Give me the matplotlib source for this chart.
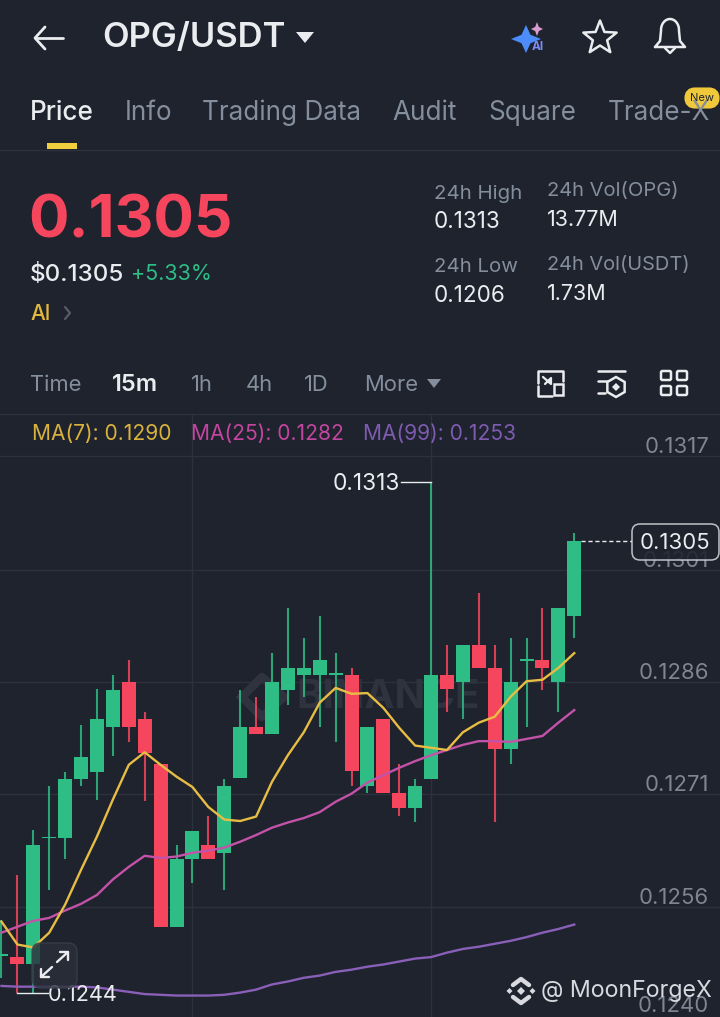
import numpy as np
import matplotlib
matplotlib.use('Agg')
import matplotlib.pyplot as plt
from matplotlib.patches import FancyBboxPatch, Polygon, Rectangle

plt.rcParams['font.family'] = ['Inter', 'DejaVu Sans']

# candles, oldest first
opens = [0.12490, 0.12488, 0.12479, 0.12649, 0.12649, 0.12729, 0.12738, 0.12799, 0.12860, 0.12810,
         0.12749, 0.12529, 0.12620, 0.12640, 0.12629, 0.12730, 0.12799, 0.12790, 0.12849, 0.12870,
         0.12870, 0.12870, 0.12870, 0.12720, 0.12810, 0.12710, 0.12690, 0.12729, 0.12870, 0.12860,
         0.12910, 0.12879, 0.12770, 0.12889, 0.12890, 0.12860, 0.12949]
closes = [0.12492, 0.12479, 0.12640, 0.12651, 0.12729, 0.12759, 0.12810, 0.12849, 0.12799, 0.12764,
          0.12529, 0.12620, 0.12659, 0.12620, 0.12720, 0.12799, 0.12790, 0.12860, 0.12879, 0.12879,
          0.12890, 0.12872, 0.12740, 0.12799, 0.12710, 0.12690, 0.12720, 0.12870, 0.12850, 0.12910,
          0.12879, 0.12770, 0.12860, 0.12891, 0.12879, 0.12960, 0.13050]
highs = [0.12538, 0.12599, 0.12660, 0.12720, 0.12738, 0.12802, 0.12850, 0.12870, 0.12890, 0.12820,
         0.12749, 0.12640, 0.12659, 0.12679, 0.12729, 0.12849, 0.12840, 0.12899, 0.12960, 0.12919,
         0.12949, 0.12899, 0.12879, 0.12799, 0.12810, 0.12749, 0.12729, 0.13130, 0.12910, 0.12910,
         0.12980, 0.12910, 0.12919, 0.12919, 0.12960, 0.12960, 0.13061]
lows = [0.12460, 0.12440, 0.12440, 0.12579, 0.12620, 0.12720, 0.12700, 0.12760, 0.12779, 0.12699,
        0.12529, 0.12529, 0.12588, 0.12620, 0.12579, 0.12730, 0.12790, 0.12790, 0.12829, 0.12840,
        0.12799, 0.12779, 0.12720, 0.12710, 0.12710, 0.12679, 0.12670, 0.12729, 0.12820, 0.12810,
        0.12879, 0.12670, 0.12749, 0.12799, 0.12849, 0.12820, 0.12919]

ma7 = [0.12536, 0.12505, 0.12501, 0.12521, 0.12559, 0.12606, 0.12651, 0.12701, 0.12748, 0.12765,
       0.12748, 0.12732, 0.12718, 0.12691, 0.12674, 0.12672, 0.12678, 0.12725, 0.12761, 0.12792,
       0.12832, 0.12852, 0.12844, 0.12845, 0.12825, 0.12798, 0.12774, 0.12771, 0.12768, 0.12792,
       0.12805, 0.12813, 0.12840, 0.12861, 0.12863, 0.12879, 0.12899]
ma25 = [0.12521, 0.12529, 0.12537, 0.12541, 0.12551, 0.12560, 0.12572, 0.12593, 0.12610, 0.12625,
        0.12622, 0.12624, 0.12629, 0.12632, 0.12636, 0.12644, 0.12653, 0.12663, 0.12670, 0.12676,
        0.12684, 0.12698, 0.12709, 0.12724, 0.12734, 0.12744, 0.12753, 0.12761, 0.12768, 0.12775,
        0.12780, 0.12780, 0.12779, 0.12783, 0.12787, 0.12805, 0.12822]
ma99 = [0.12449, 0.12448, 0.12448, 0.12448, 0.12448, 0.12448, 0.12447, 0.12444, 0.12441, 0.12438,
        0.12437, 0.12436, 0.12436, 0.12436, 0.12437, 0.12440, 0.12444, 0.12451, 0.12455, 0.12460,
        0.12463, 0.12468, 0.12471, 0.12475, 0.12478, 0.12482, 0.12486, 0.12488, 0.12494, 0.12499,
        0.12502, 0.12506, 0.12510, 0.12515, 0.12521, 0.12526, 0.12532]

grid_prices = [0.13165, 0.13012, 0.12860, 0.12708, 0.12556]
axis_prices = [0.13165, 0.13012, 0.12860, 0.12708, 0.12556, 0.12410]
axis_labels = ['0.1317', '0.1301', '0.1286', '0.1271', '0.1256', '0.1240']
grid_candles = [12, 27]

tabs = ['Price', 'Info', 'Trading Data', 'Audit', 'Square', 'Trade-X']
intervals = ['Time', '15m', '1h', '4h', '1D', 'More']

BG = '#1e232e'
GRID = '#2c313c'
GREEN = '#2ebd85'
RED = '#f6465d'
GREY = '#848e9c'
WHITE = '#eaecef'

fig = plt.figure(figsize=(7.2, 10.17), dpi=100, facecolor=BG)

# chart part, price scale on y, candle number on x
ax = fig.add_axes([0, 0, 1, 602 / 1017])
ax.set_facecolor(BG)
ax.set_xlim(-0.094, 45.16)
ax.set_ylim(0.12407, 0.13221)
for s in ax.spines.values():
    s.set_visible(False)
ax.set_xticks([])
ax.set_yticks([])
for p in grid_prices:
    ax.axhline(p, color=GRID, lw=1, zorder=1)
for c in grid_candles:
    ax.axvline(c, color=GRID, lw=1, zorder=1)

# faint watermark
ax.text(24.3, 0.12839, 'BINANCE', color='#2e333e', fontsize=29, fontweight='bold',
        ha='center', va='center', zorder=1.5)

x = np.arange(len(opens))
for i in x:
    col = GREEN if closes[i] >= opens[i] else RED
    ax.vlines(i, lows[i], highs[i], color=col, lw=1.5, alpha=0.85, zorder=2)
    ax.bar(i, abs(closes[i] - opens[i]), bottom=min(opens[i], closes[i]), width=0.88,
           color=col, lw=0, zorder=3)

ax.plot(x, ma99, color='#8a5fb8', lw=1.7, zorder=4)
ax.plot(x, ma25, color='#c452a8', lw=1.7, zorder=4)
ax.plot(x, ma7, color='#e8bd44', lw=1.7, zorder=5)

for p, lab in zip(axis_prices, axis_labels):
    ax.annotate(lab, (1, p), xycoords=('axes fraction', 'data'), xytext=(-11, 9),
                textcoords='offset pixels', color='#7f8591', fontsize=15.9, ha='right', va='center', zorder=2)

# high / low markers and the last price
ax.plot([27, 25.1], [max(highs), max(highs)], color=WHITE, lw=1, zorder=6)
ax.text(25.05, max(highs) - 0.00002, '0.1313', color=WHITE, fontsize=16.4, ha='right', va='center', zorder=6)
ax.plot([1, 2.9], [min(lows), min(lows)], color=WHITE, lw=1, zorder=6)
ax.text(2.9, min(lows) - 0.00003, '0.1244', color=WHITE, fontsize=15.6, ha='left', va='center', zorder=6)
ax.plot([36.4, 39.6], [closes[-1], closes[-1]], color=WHITE, lw=1, ls=(0, (3, 2)), zorder=6)

# everything else is placed in screen pixels
ui = fig.add_axes([0, 0, 1, 1], facecolor='none')
ui.set_xlim(0, 720)
ui.set_ylim(1017, 0)
ui.axis('off')


def txt(px, py, s, color=WHITE, size=15, weight='normal', ha='left'):
    ui.text(px, py + 2, s, color=color, fontsize=size, fontweight=weight, ha=ha, va='center')


def line(xs, ys, color=WHITE, lw=1.8):
    ui.plot(xs, ys, color=color, lw=lw, solid_capstyle='round', solid_joinstyle='round')


def sparkle(cx, cy, w, h, color):
    pts = [(cx, cy - h), (cx + w * 0.3, cy - h * 0.3), (cx + w, cy), (cx + w * 0.3, cy + h * 0.3),
           (cx, cy + h), (cx - w * 0.3, cy + h * 0.3), (cx - w, cy), (cx - w * 0.3, cy - h * 0.3)]
    ui.add_patch(Polygon(pts, closed=True, fc=color, ec='none'))


# header
line([36, 63], [38, 38], lw=2)
line([45, 35, 45], [27, 38, 49], lw=2)
txt(102, 36, 'OPG/USDT', size=24.9, weight='semibold')
ui.add_patch(Polygon([(296, 32), (314, 32), (305, 43)], closed=True, fc=WHITE, ec='none'))
sparkle(526, 39, 15, 14, '#4d8dfb')
sparkle(537, 29, 6, 7, '#d99bd0')
txt(532, 45, 'AI', color='#7d8cf5', size=8.5, weight='bold')
star_a = np.deg2rad(np.arange(-90, 270, 36))
star_r = np.where(np.arange(10) % 2 == 0, 17.5, 7.5)
ui.add_patch(Polygon(np.c_[600 + star_r * np.cos(star_a), 38 + star_r * np.sin(star_a)], closed=True,
                     fc='none', ec=WHITE, lw=1.8, joinstyle='round'))
bell_t = np.linspace(np.pi, 0, 20)
bell_x = list(np.r_[655, 660, 661, 670 + 9 * np.cos(bell_t), 679, 680, 685, 655])
bell_y = list(np.r_[47, 41, 31, 30 + 11 * -np.sin(bell_t), 31, 41, 47, 47])
line(bell_x, bell_y, lw=1.8)
line([665, 670, 675], [48, 53, 48], lw=1.8)

# tabs
tab_x = [30, 125, 202, 392, 488, 608]
for i in range(len(tabs)):
    txt(tab_x[i], 111, tabs[i], color=WHITE if i == 0 else GREY, size=18.8, weight='medium' if i == 0 else 'normal')
ui.add_patch(Rectangle((47, 143), 30, 6, fc='#f0ce3e', ec='none'))
ui.plot([0, 720], [149.5, 149.5], color=GRID, lw=1)
ui.add_patch(FancyBboxPatch((690, 93), 24, 10, boxstyle='round,pad=0,rounding_size=5', mutation_aspect=1,
                            fc='#f0c93a', ec='#f0c93a', lw=8))
txt(702, 96, 'New', color='#1e232e', size=8, ha='center')

# price block
txt(28, 220, '0.1305', color=RED, size=43.3, weight='bold')
txt(30, 273, '$0.1305', size=17.4, weight='medium')
txt(131, 272, '+5.33%', color=GREEN, size=15.5)
txt(30, 312, 'AI', color='#e3b93c', size=15, weight='medium')
line([65, 70, 65], [307, 313, 319], color='#565c68', lw=1.6)

txt(434, 192, '24h High', color=GREY, size=14.7)
txt(434, 220, '0.1313', size=16.2)
txt(434, 265, '24h Low', color=GREY, size=14.7)
txt(434, 294, '0.1206', size=16.2)
txt(547, 189, '24h Vol(OPG)', color=GREY, size=14.5)
txt(547, 218, '13.77M', size=15.5)
txt(547, 263, '24h Vol(USDT)', color=GREY, size=14.4)
txt(547, 292, '1.73M', size=15.5)

# interval row
int_x = [30, 112, 191, 246, 304, 364]
for i in range(len(intervals)):
    txt(int_x[i], 383, intervals[i], color=WHITE if i == 1 else GREY, size=17 if i == 1 else 15.8, weight='semibold' if i == 1 else 'normal')
ui.add_patch(Polygon([(427, 379), (441, 379), (434, 388)], closed=True, fc=GREY, ec='none'))
ui.plot([0, 720], [414, 414], color=GRID, lw=1)

# chart tool icons
line([538, 538, 563, 563], [383, 371, 371, 381], lw=1.8)
line([538, 538, 552], [386, 396, 396], lw=1.8)
ui.add_patch(Rectangle((554, 384), 9, 11, fc='none', ec=WHITE, lw=1.8))
line([543, 551, 551, 545], [377, 384, 378, 384], lw=1.6)
line([598, 625], [371, 371], lw=1.8)
line([598, 607], [381, 381], lw=1.8)
line([598, 605], [393, 393], lw=1.8)
hex_a = np.deg2rad(np.arange(-90, 270, 60))
ui.add_patch(Polygon(np.c_[616 + 10 * np.cos(hex_a), 387 + 10 * np.sin(hex_a)], closed=True, fc='none', ec=WHITE, lw=1.8))
ui.add_patch(Polygon([(616, 383), (620, 387), (616, 391), (612, 387)], closed=True, fc=WHITE, ec='none'))
for gx in (661, 677):
    for gy in (371, 386):
        ui.add_patch(FancyBboxPatch((gx, gy), 10, 9, boxstyle='round,pad=0,rounding_size=1.5', fc='none', ec=WHITE, lw=1.8))

# MA legend
txt(32, 432, 'MA(7): 0.1290', color='#d9b23e', size=15.1)
txt(191, 432, 'MA(25): 0.1282', color='#c4459f', size=15.1)
txt(363, 432, 'MA(99): 0.1253', color='#7e5bb0', size=15.1)

# last price tag
ui.add_patch(FancyBboxPatch((632, 524), 87, 36, boxstyle='round,pad=0,rounding_size=8',
                            fc=BG, ec='#d5d7dc', lw=1.1, alpha=0.88))
txt(675, 541, '0.1305', size=15.9, ha='center')

# expand button
ui.add_patch(FancyBboxPatch((32, 943), 45, 45, boxstyle='round,pad=0,rounding_size=9',
                            fc='#2a2f3a', ec='#3c414c', lw=1, alpha=0.8))
line([57, 68], [962, 952], lw=1.7)
line([60, 68, 68], [952, 952, 960], lw=1.7)
line([52, 41], [967, 977], lw=1.7)
line([41, 41, 49], [969, 977, 977], lw=1.7)

# watermark logos, the faint one goes under the candles
ax.add_line(plt.Line2D([242, 262, 284, 262, 242], [697, 677, 697, 717, 697], color='#2e333e', lw=6,
                       transform=ui.transData, zorder=1.5))
line([513, 521, 529], [985, 979, 985], color='#d8dae0', lw=3.2)
line([513, 521, 529], [997, 1003, 997], color='#d8dae0', lw=3.2)
for lx, r in [(509.5, 3), (521, 4), (532.5, 3)]:
    ui.add_patch(Polygon([(lx, 991 - r), (lx + r, 991), (lx, 991 + r), (lx - r, 991)], closed=True, fc='#d8dae0', ec='none'))
txt(541, 989, '@ MoonForgeX', color='#d8dae0', size=16.7)

fig.savefig('out.png', dpi=100, facecolor=BG)
